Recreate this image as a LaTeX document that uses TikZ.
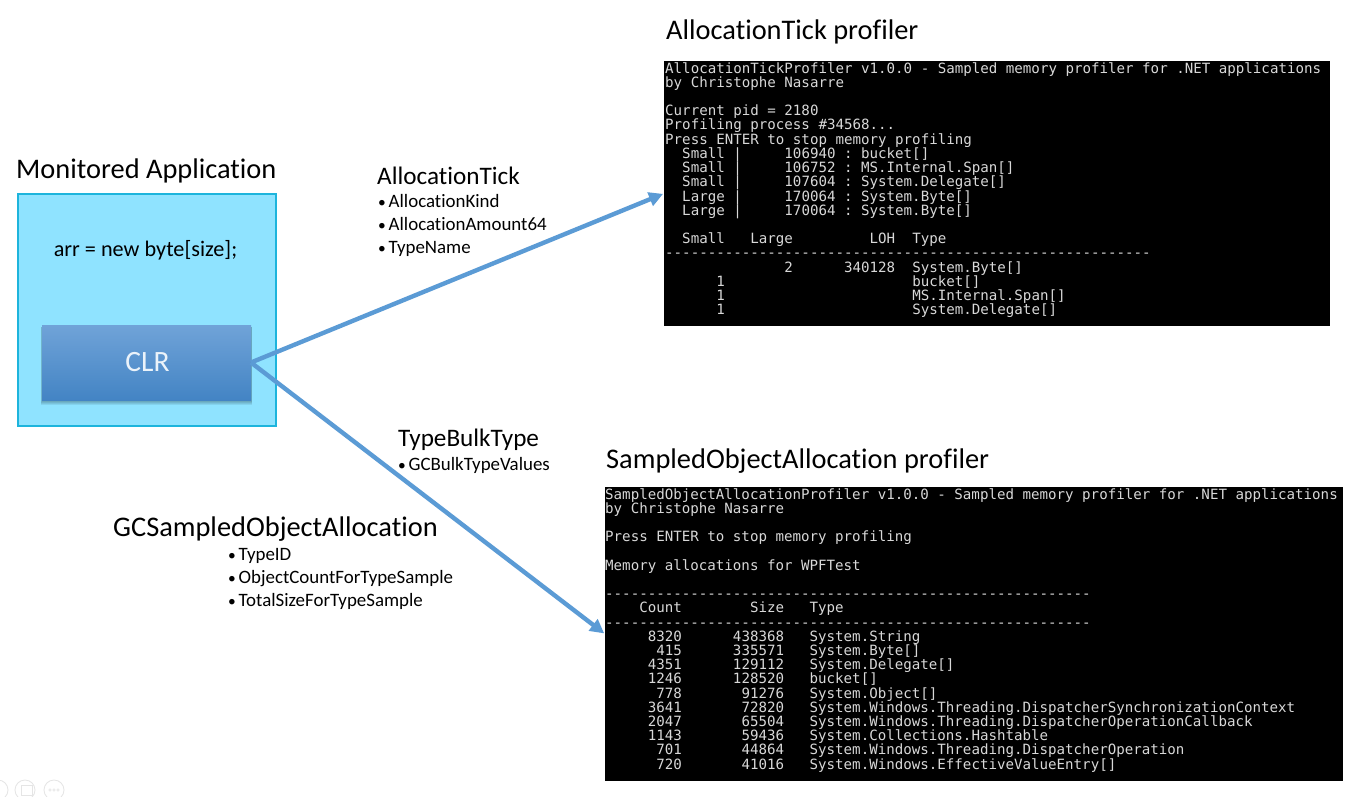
\documentclass[tikz,border=0pt]{standalone}
\usepackage{fontspec}
\setmainfont[Ligatures=NoCommon]{Carlito}
\newfontfamily\consolefont{DejaVu Sans Mono}
\usetikzlibrary{arrows.meta}
\definecolor{arrowblue}{HTML}{5B9BD5}
\definecolor{appfill}{HTML}{8FE3FF}
\definecolor{appline}{HTML}{1DB4DC}
\definecolor{contxt}{HTML}{D8D8D8}
\definecolor{clrtop}{HTML}{70A3D8}
\definecolor{clrmid}{HTML}{5B9BD8}
\definecolor{clrbot}{HTML}{4384C4}
\tikzset{
  heading/.style={anchor=base west,inner sep=0pt,font=\fontsize{28.4}{30}\selectfont,text=black},
  eventname/.style={anchor=base west,inner sep=0pt,font=\fontsize{25.2}{26}\selectfont,text=black},
  fieldlist/.style={anchor=north west,inner sep=0pt,align=left,font=\fontsize{18.9}{23}\selectfont,text=black},
  consolebox/.style={fill=black,inner sep=0pt,outer sep=0pt,anchor=north west},
  consoletext/.style={anchor=north west,inner sep=0pt,align=left,text=contxt,font=\consolefont\fontsize{14.15}{14.22}\selectfont},
  flow/.style={draw=arrowblue,line width=4.4pt,shorten >=1pt,-{Triangle[length=14pt,width=14pt]}},
  faint/.style={draw=black!10,line width=0.8pt}
}
\newcommand{\itm}[1]{\makebox[10.5pt][l]{\fontsize{15.5}{15.5}\selectfont •}#1}
\begin{document}
\begin{tikzpicture}[x=1pt,y=-1pt]
\useasboundingbox (0,0) rectangle (1358,796);
\fill[white] (0,0) rectangle (1358,796);
% faint toolbar icons
\draw[faint] (-2,790) circle (10);
\draw[faint] (25,790) circle (10);
\draw[faint] (21,785) rectangle (32,795);
\draw[faint] (54,790) circle (10);
\foreach \dx in {50,54,58} \draw[faint,line width=0.5pt] (\dx,790) circle (1.2);
% application
\node[heading] (apptitle) at (16,178) {Monitored Application};
\node[draw=appline,fill=appfill,line width=1.5pt,outer sep=0pt,minimum width=258pt,minimum height=232pt,inner sep=0pt,anchor=north west] (app) at (18,194) {};
\node[inner sep=0pt,font=\fontsize{22.2}{24}\selectfont,text=black] (code) at (145.5,250) {arr = new byte[size];};
% soft shadow of the CLR box
\foreach \g in {1,2,3,4,5}
  \fill[black,opacity=0.07] (42-0.25*\g,327) rectangle (251+0.25*\g,400+\g);
\node[minimum width=209pt,minimum height=75pt,inner sep=0pt,outer sep=0pt,anchor=north west,top color=clrtop,middle color=clrmid,bottom color=clrbot,text=white!88!clrmid,font=\fontsize{29.5}{30}\selectfont] (clr) at (42,325) {\hspace{2pt}CLR};
% consoles
\node[heading] (ticktitle) at (666,39) {AllocationTick profiler};
\node[consolebox,minimum width=666pt,minimum height=265pt] (tickcon) at (664,61) {};
\node[consoletext] (ticktext) at (665,62) {AllocationTickProfiler~v1.0.0~-~Sampled~memory~profiler~for~.NET~applications\\
by~Christophe~Nasarre\\
~\\
Current~pid~=~2180\\
Profiling~process~\#34568...\\
Press~ENTER~to~stop~memory~profiling\\
~~Small~|~~~~~106940~:~bucket[]\\
~~Small~|~~~~~106752~:~MS.Internal.Span[]\\
~~Small~|~~~~~107604~:~System.Delegate[]\\
~~Large~|~~~~~170064~:~System.Byte[]\\
~~Large~|~~~~~170064~:~System.Byte[]\\
~\\
~~Small~~~Large~~~~~~~~~LOH~~Type\\
---------------------------------------------------------\\
~~~~~~~~~~~~~~2~~~~~~340128~~System.Byte[]\\
~~~~~~1~~~~~~~~~~~~~~~~~~~~~~bucket[]\\
~~~~~~1~~~~~~~~~~~~~~~~~~~~~~MS.Internal.Span[]\\
~~~~~~1~~~~~~~~~~~~~~~~~~~~~~System.Delegate[]};
\node[heading] (samptitle) at (606,468) {SampledObjectAllocation profiler};
\node[consolebox,minimum width=738pt,minimum height=294pt] (sampcon) at (605,487) {};
\node[consoletext] (samptext) at (605,488) {SampledObjectAllocationProfiler~v1.0.0~-~Sampled~memory~profiler~for~.NET~applications\\
by~Christophe~Nasarre\\
~\\
Press~ENTER~to~stop~memory~profiling\\
~\\
Memory~allocations~for~WPFTest\\
~\\
---------------------------------------------------------\\
~~~~Count~~~~~~~~Size~~~Type\\
---------------------------------------------------------\\
~~~~~8320~~~~~~438368~~~System.String\\
~~~~~~415~~~~~~335571~~~System.Byte[]\\
~~~~~4351~~~~~~129112~~~System.Delegate[]\\
~~~~~1246~~~~~~128520~~~bucket[]\\
~~~~~~778~~~~~~~91276~~~System.Object[]\\
~~~~~3641~~~~~~~72820~~~System.Windows.Threading.DispatcherSynchronizationContext\\
~~~~~2047~~~~~~~65504~~~System.Windows.Threading.DispatcherOperationCallback\\
~~~~~1143~~~~~~~59436~~~System.Collections.Hashtable\\
~~~~~~701~~~~~~~44864~~~System.Windows.Threading.DispatcherOperation\\
~~~~~~720~~~~~~~41016~~~System.Windows.EffectiveValueEntry[]};
% labels
\node[eventname] (ev1) at (377,184) {AllocationTick};
\node[fieldlist] (f1) at (378,194) {\itm{AllocationKind}\\\itm{AllocationAmount64}\\\itm{TypeName}};
\node[eventname] (ev2) at (398,446) {TypeBulkType};
\node[fieldlist] (f2) at (398,457) {\itm{GCBulkTypeValues}};
\node[heading] (ev3) at (113,536) {GCSampledObjectAllocation};
\node[fieldlist] (f3) at (228,548) {\itm{TypeID}\\\itm{ObjectCountForTypeSample}\\\itm{TotalSizeForTypeSample}};
% connectors
\draw[flow] (clr.east) -- (tickcon.west);
\draw[flow] (clr.east) -- (sampcon.west);
\end{tikzpicture}
\end{document}
